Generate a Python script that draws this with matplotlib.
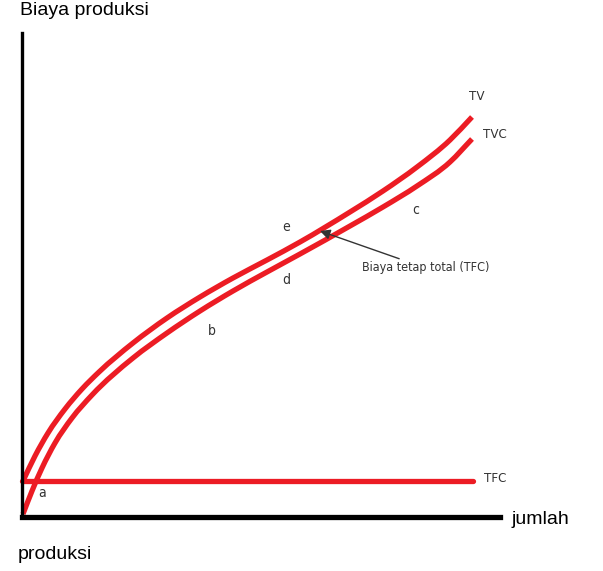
import matplotlib
matplotlib.use("Agg")
import matplotlib.pyplot as plt
import numpy as np
from matplotlib.path import Path
from matplotlib.patches import PathPatch
from matplotlib import font_manager as fm

# ---- data (quantity, cost) ----
tfc_x = [0, 451]
tfc_y = [36, 36]

tv_x = [1, 13, 26, 43, 60, 77, 111, 145, 178, 211, 245, 278, 328, 361, 395, 428, 450]
tv_y = [36, 61, 84, 108, 128, 145, 174, 199, 220, 239, 257, 275, 305, 326, 350, 377, 400]

tvc_x = [1, 10, 20, 33, 50, 70, 111, 145, 178, 211, 245, 278, 328, 361, 395, 428, 450]
tvc_y = [3, 26, 49, 74, 99, 122, 159, 184, 206, 226, 245, 263, 291, 310, 331, 355, 378]

labels = {
    "TV": (447, 420),
    "TVC": (461, 382),
    "c": (394, 307),
    "e": (264, 290),
    "d": (264, 237),
    "b": (190, 186),
    "a": (20, 24),
    "TFC": (462, 39),
}
arrow_text = "Biaya tetap total (TFC)"
arrow_head = (298, 286)
arrow_tail = (340, 249)

red = "#ec1c24"


def smooth_path(xs, ys):
    """Smooth curve through the given points (cubic Hermite drawn as Beziers)."""
    x = np.asarray(xs, float)
    y = np.asarray(ys, float)
    h = np.diff(x)
    s = np.diff(y) / h
    m = np.empty_like(x)
    m[0], m[-1] = s[0], s[-1]
    m[1:-1] = (s[:-1] * h[1:] + s[1:] * h[:-1]) / (h[:-1] + h[1:])
    verts = [(x[0], y[0])]
    codes = [Path.MOVETO]
    for i in range(len(x) - 1):
        d = h[i] / 3.0
        verts += [(x[i] + d, y[i] + d * m[i]),
                  (x[i + 1] - d, y[i + 1] - d * m[i + 1]),
                  (x[i + 1], y[i + 1])]
        codes += [Path.CURVE4] * 3
    return Path(verts, codes)


fig = plt.figure(figsize=(6.03, 5.71), dpi=100)
W, H = 603, 571
ax = fig.add_axes([22 / W, (H - 517) / H, (500 - 22) / W, (517 - 33) / H])
ax.set_xlim(0, 478)
ax.set_ylim(0, 484)

for s in ["top", "right"]:
    ax.spines[s].set_visible(False)
ax.spines["left"].set_linewidth(2.4)
ax.spines["bottom"].set_linewidth(3.8)
ax.spines["left"].set_color("black")
ax.spines["bottom"].set_color("black")
ax.set_xticks([])
ax.set_yticks([])

lw = 3.8
ax.plot(tfc_x, tfc_y, color=red, lw=lw, solid_capstyle="round", clip_on=False)
for xs, ys in [(tv_x, tv_y), (tvc_x, tvc_y)]:
    ax.add_patch(PathPatch(smooth_path(xs, ys), fill=False, edgecolor=red, lw=lw,
                           capstyle="butt", joinstyle="round", clip_on=False))

avail = {f.name for f in fm.fontManager.ttflist}
if "Liberation Sans Narrow" in avail:
    narrow = dict(family=["Liberation Sans Narrow", "DejaVu Sans"])
else:
    narrow = dict(family=["DejaVu Sans"], fontstretch="condensed")

lab_col = "#333333"
for t, (x, y) in labels.items():
    ax.text(x, y, t, fontsize=10 if len(t) == 1 else 9.5, color=lab_col,
            ha="center" if len(t) == 1 else "left", va="center", clip_on=False, **narrow)

ax.annotate(arrow_text, xy=arrow_head, xytext=arrow_tail,
            fontsize=9, color=lab_col, ha="left", va="center",
            arrowprops=dict(arrowstyle="-|>", color="#333333", lw=1.0,
                            mutation_scale=15, shrinkA=0, shrinkB=0), **narrow)

outer = ["Liberation Sans", "DejaVu Sans"]
fig.text(20 / W, 1 - 15 / H, "Biaya produksi", fontsize=14, family=outer, ha="left", va="baseline")
fig.text(512 / W, 1 - 524 / H, "jumlah", fontsize=14, family=outer, ha="left", va="baseline")
fig.text(18 / W, 1 - 559 / H, "produksi", fontsize=14, family=outer, ha="left", va="baseline")

fig.savefig("out.png", dpi=100)
